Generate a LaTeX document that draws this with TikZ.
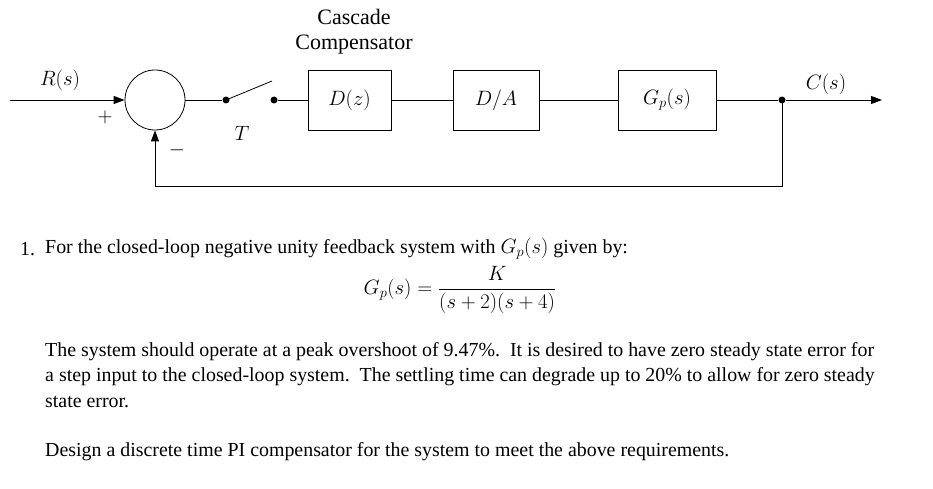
\documentclass[tikz,border=0pt]{standalone}
\usepackage{fontspec}
\setmainfont{Liberation Serif}
\usetikzlibrary{arrows.meta}
\begin{document}
\begin{tikzpicture}[x=1pt,y=-1pt,
  blk/.style={draw,thick,minimum width=#1,minimum height=60pt,inner sep=0pt,font=\fontsize{22}{26}\selectfont},
  sig/.style={thick},
  arr/.style={thick,-{Triangle[length=11pt,width=8pt]}},
  dot/.style={circle,fill,inner sep=0pt,minimum size=7pt},
  txt/.style={anchor=west,inner sep=0pt,font=\fontsize{19.9}{22}\selectfont},
  lab/.style={font=\fontsize{22}{26}\selectfont}]
\useasboundingbox (0,0) rectangle (933,489);
\coordinate (in) at (10,100);
\node[draw,thick,circle,minimum size=60pt,inner sep=0pt] (sum) at (155,100) {};
\node[dot] (s1) at (226,100) {};
\node[dot] (s2) at (274,100) {};
\coordinate (blade) at (272,81);
\node[blk=83pt] (D) at (349.5,100) {$D(z)$};
\node[blk=86pt] (DA) at (496,100) {$D/A$};
\node[blk=98pt] (G) at (667,100) {$G_p(s)$};
\node[dot] (j) at (782,100) {};
\coordinate (out) at (882,100);
\coordinate (fb1) at (782,186);
\coordinate (fb2) at (155,186);
\draw[arr] (in) -- (sum.west);
\draw[sig] (sum.east) -- (s1);
\draw[sig] (s1.center) -- (blade);
\draw[sig] (s2) -- (D.west);
\draw[sig] (D.east) -- (DA.west);
\draw[sig] (DA.east) -- (G.west);
\draw[sig] (G.east) -- (j);
\draw[arr] (j) -- (out);
\draw[arr] (j.center) -- (fb1) -- (fb2) -- (sum.south);
\node[lab] (R) at (60,80) {$R(s)$};
\node[lab] (C) at (826,84) {$C(s)$};
\node[lab] (plus) at (105,117) {$+$};
\node[lab] (minus) at (177,150) {$-$};
\node[lab] (T) at (242,133) {$T$};
\node[lab] (cas) at (354,17) {Cascade};
\node[lab] (comp) at (354,45) {Compensator};
\node[txt] (n1) at (20,249) {1.};
\node[txt] (l1) at (45,249) {For the closed-loop negative unity feedback system with $G_p(s)$ given by:};
\node[font=\fontsize{20}{24}\selectfont] (eq) at (460,290) {$G_p(s)=\displaystyle\frac{K}{(s+2)(s+4)}$};
\node[txt] (p1) at (45,352) {The system should operate at a peak overshoot of 9.47\%.\ \ It is desired to have zero steady state error for};
\node[txt] (p2) at (45,377) {a step input to the closed-loop system.\ \ The settling time can degrade up to 20\% to allow for zero steady};
\node[txt] (p3) at (45,402) {state error.};
\node[txt] (p4) at (45,452) {Design a discrete time PI compensator for the system to meet the above requirements.};
\end{tikzpicture}
\end{document}
